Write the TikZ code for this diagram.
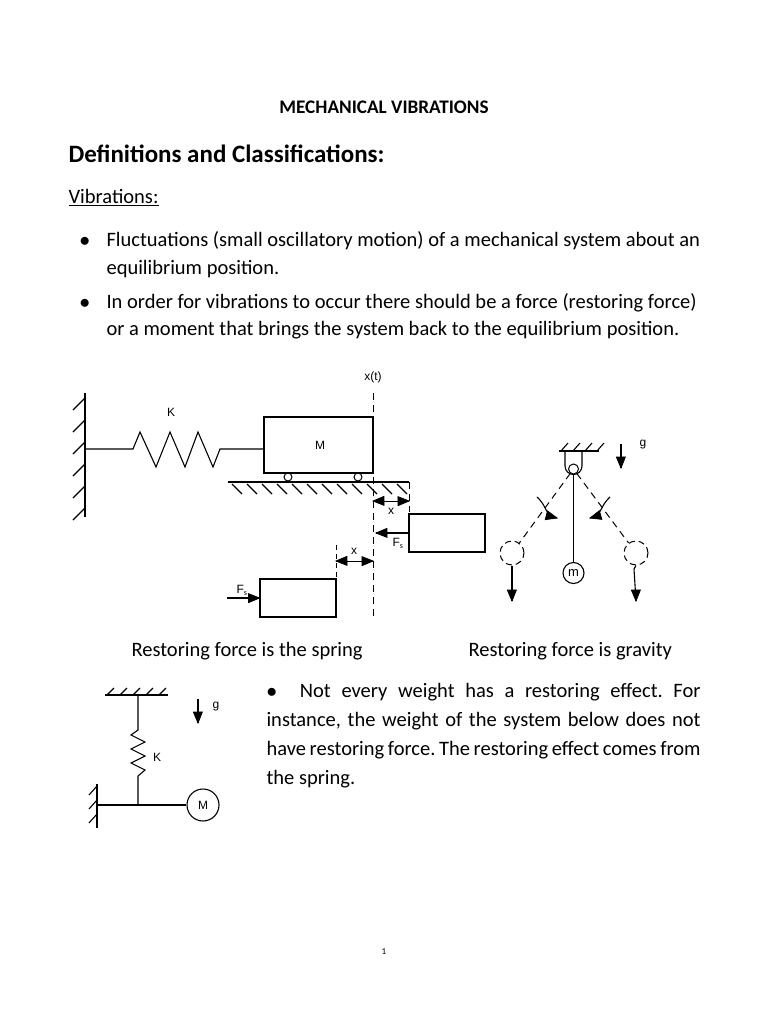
\documentclass[tikz,border=0pt]{standalone}
\usepackage{fontspec}
\setmainfont{Carlito}
\newfontfamily\dsans{Liberation Sans}
\begin{document}
\frenchspacing
\begin{tikzpicture}[x=1pt,y=1pt,line width=1.1pt,
  body/.style={font=\fontsize{20.5}{28.8}\selectfont,anchor=base west,inner sep=0},
  lab/.style={font=\dsans\fontsize{12}{14}\selectfont,inner sep=0},
  dsh/.style={dash pattern=on 7pt off 5pt,line width=1pt}]
\newcommand\myhead[2]{\filldraw[black,line width=0.8pt,line join=miter,shift={(#1)},rotate=#2+0.7] (0,0) -- (-11,4.5) -- (-11,-4.5) -- cycle;}
\useasboundingbox (0,0) rectangle (768,-1024);
% texts
\node[font=\bfseries\fontsize{19.2}{22}\selectfont,anchor=base,inner sep=0] (title) at (384,-114) {MECHANICAL VIBRATIONS};
\node[font=\bfseries\fontsize{25}{29}\selectfont,anchor=base west,inner sep=0] (def) at (68,-163) {Definitions and Classifications:};
\node[body] (vib) at (68,-204) {\underline{Vibrations:}};
\node[body] (b1) at (79,-247) {$\bullet$};
\node[body] (t1) at (106,-247) {Fluctuations (small oscillatory motion) of a mechanical system about an};
\node[body] (t1b) at (106,-274) {equilibrium position.};
\node[body] (b2) at (79,-308) {$\bullet$};
\node[body] (t2) at (106,-308) {In order for vibrations to occur there should be a force (restoring force)};
\node[body] (t2b) at (106,-335) {or a moment that brings the system back to the equilibrium position.};
\node[body] (c1) at (131,-656) {Restoring force is the spring};
\node[body] (c2) at (468,-656) {Restoring force is gravity};
\node[body,text width=434pt,align=justify,anchor=north west] (para) at (266,-683) {$\bullet$\hspace{0.6em} Not every weight has a restoring effect. For\linebreak instance, the weight of the system below does not\linebreak have restoring force. The restoring effect comes from\linebreak the spring.};
\node[font=\fontsize{9}{10}\selectfont,inner sep=0] (pg) at (384,-952) {1};

% ---- spring-mass system
\draw (85,-393) -- (85,-517);
\foreach \y in {398,420,442,464,486,508} \draw (85,-\y) -- (73,-\y-12);
\coordinate (w1) at (85,-449);
\node[draw,minimum width=109pt,minimum height=56pt,inner sep=0] (M) at (318.5,-445) {};
\node[lab] at (320,-445) {M};
\coordinate (mw) at (264,-449);
\draw (w1) -- (133,-449) -- (140,-432) -- (156,-467) -- (170,-432) -- (185,-467) -- (198,-432) -- (213,-467) -- (220,-449) -- (mw);
\node[lab] (K) at (171,-412) {K};
\node[draw,circle,minimum size=8pt,inner sep=0,line width=1pt] (wh1) at (288,-477) {};
\node[draw,circle,minimum size=8pt,inner sep=0,line width=1pt] (wh2) at (358,-477) {};
\draw (228,-482) -- (409,-482);
\foreach \x in {232,247,262,277,292,307,322,337,352,367,382,397} \draw (\x,-484) -- (\x+10,-494);
\node[lab] (xt) at (373,-377) {x(t)};
\draw[dsh] (373,-393) -- (373,-618);
\draw[dsh] (409,-482) -- (409,-512);
\coordinate (xa1) at (373,-501); \coordinate (xa2) at (409,-501);
\draw[line width=1pt] (xa1) -- (xa2);
\myhead{xa2}{0} \myhead{xa1}{180}
\node[lab] at (391,-511) {x};
\node[draw,minimum width=76pt,minimum height=38pt,inner sep=0] (B1) at (447,-533) {};
\coordinate (f1) at (376,-533);
\draw (B1.west) -- (f1); \myhead{f1}{180}
\node[lab] at (398,-543) {F$_{\mathrm{s}}$};
\draw[dsh,dash pattern=on 5pt off 4pt] (336,-545) -- (336,-579);
\coordinate (xb1) at (336,-561); \coordinate (xb2) at (373,-561);
\draw[line width=1pt] (xb1) -- (xb2);
\myhead{xb2}{0} \myhead{xb1}{180}
\node[lab] at (354,-551) {x};
\node[draw,minimum width=76pt,minimum height=38pt,inner sep=0] (B2) at (298,-598) {};
\coordinate (f2) at (227,-598);
\draw (f2) -- (B2.west); \myhead{B2.west}{0}
\node[lab] at (242,-590) {F$_{\mathrm{s}}$};

% ---- pendulum
\draw (559,-451) -- (599,-451);
\foreach \x in {561,573,585,597} \draw (\x,-451) -- (\x+7,-443);
\draw (565,-451) -- (565,-466) arc (180:360:8.5) -- (582,-451);
\node[draw,circle,minimum size=10pt,inner sep=0,line width=1pt,fill=white] (piv) at (573.5,-469) {};
\node[draw,circle,minimum size=21pt,inner sep=0,font=\dsans\fontsize{13}{14}\selectfont] (m) at (573.5,-573) {m};
\draw (piv) -- (m);
\node[draw,circle,dsh,dash pattern=on 6pt off 4pt,minimum size=24pt,inner sep=0] (L) at (512,-553) {};
\node[draw,circle,dsh,dash pattern=on 6pt off 4pt,minimum size=24pt,inner sep=0] (R) at (636,-553) {};
\draw[dsh] (piv) -- (L);
\draw[dsh] (piv) -- (R);
\coordinate (la) at (512,-601);
\coordinate (ra) at (636,-601);
\draw (L.south) -- (la); \myhead{la}{-90}
\draw (R.south) -- (634,-569) -- (ra); \myhead{ra}{-90}
\coordinate (ca) at (557,-518); \coordinate (cb) at (590,-518);
\draw (537,-497) .. controls (548,-507) and (544,-515) .. (ca); \myhead{ca}{-15}
\draw (610,-497) .. controls (599,-507) and (603,-515) .. (cb); \myhead{cb}{195}
\coordinate (g1a) at (621,-444); \coordinate (g1b) at (621,-468);
\draw (g1a) -- (g1b); \myhead{g1b}{-90}
\node[lab] at (643,-445) {g};

% ---- vertical spring
\draw (105,-695) -- (168,-695);
\foreach \x in {107,120,133,146,159} \draw (\x,-695) -- (\x+7,-688);
\node[draw,circle,minimum size=32pt,inner sep=0,font=\dsans\fontsize{12}{14}\selectfont] (M2) at (203,-805) {M};
\draw (138,-695) -- (138,-730) -- (131,-735) -- (145,-742) -- (131,-749) -- (145,-756) -- (131,-763) -- (145,-770) -- (138,-776) -- (138,-805);
\draw (97,-805) -- (M2.west);
\draw (97,-784) -- (97,-828);
\foreach \y in {786,800,814} \draw (97,-\y) -- (89,-\y-9);
\node[lab] at (157,-757) {K};
\coordinate (g2a) at (198,-699); \coordinate (g2b) at (198,-723);
\draw (g2a) -- (g2b); \myhead{g2b}{-90}
\node[lab] at (216,-707) {g};
\end{tikzpicture}
\end{document}
